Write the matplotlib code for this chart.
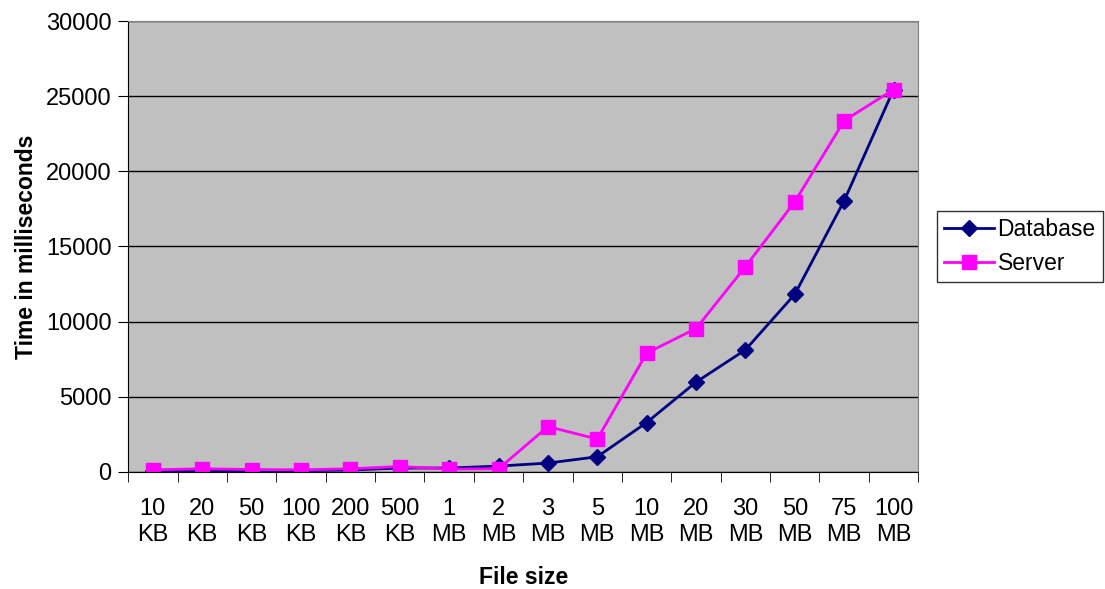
import matplotlib
matplotlib.use("Agg")
import matplotlib.pyplot as plt
from matplotlib.ticker import MultipleLocator, FixedLocator

plt.rcParams['font.family'] = ['Liberation Sans', 'DejaVu Sans']

categories = ["10\nKB", "20\nKB", "50\nKB", "100\nKB", "200\nKB", "500\nKB", "1\nMB", "2\nMB",
              "3\nMB", "5\nMB", "10\nMB", "20\nMB", "30\nMB", "50\nMB", "75\nMB", "100\nMB"]
database = [60, 80, 70, 80, 120, 250, 250, 380, 580, 1000, 3280, 5970, 8120, 11820, 18050, 25450]
server = [130, 200, 150, 130, 200, 350, 180, 200, 3010, 2180, 7900, 9540, 13660, 17980, 23380, 25450]

fig = plt.figure(figsize=(11.05, 5.89), dpi=100)
ax = fig.add_axes([0.116, 0.199, 0.715, 0.765])
ax.set_facecolor('#C0C0C0')

x = list(range(len(categories)))
ax.plot(x, database, color='#000080', marker='D', markersize=8.5, linewidth=2.0, label='Database')
ax.plot(x, server, color='#FF00FF', marker='s', markersize=10, linewidth=2.0, label='Server')

ax.set_xlim(-0.5, len(categories) - 0.5)
ax.set_ylim(0, 30000)
ax.yaxis.set_major_locator(MultipleLocator(5000))
ax.yaxis.grid(True, color='#000000', linewidth=1.0)
ax.set_axisbelow(True)

ax.set_xticks(x)
ax.set_xticklabels(categories, fontsize=17, linespacing=1.2)
ax.tick_params(axis='x', which='major', length=0, pad=19)
ax.xaxis.set_minor_locator(FixedLocator([i - 0.5 for i in range(len(categories) + 1)]))
ax.tick_params(axis='x', which='minor', length=7, direction='out', color='black')
ax.tick_params(axis='y', length=7, direction='out', labelsize=17, color='black', pad=5)

for side in ['top', 'right']:
    ax.spines[side].set_color('#808080')
for side in ['left', 'bottom']:
    ax.spines[side].set_color('black')

ax.set_xlabel('File size', fontsize=16.5, fontweight='bold', labelpad=15)
ax.set_ylabel('Time in milliseconds', fontsize=16.5, fontweight='bold', labelpad=6)

leg = ax.legend(loc='center left', bbox_to_anchor=(1.0235, 0.50), fontsize=16.5, frameon=True,
                fancybox=False, edgecolor='black', handlelength=2.2, borderpad=0.3,
                labelspacing=0.5, handletextpad=0.15, borderaxespad=0)
leg.get_frame().set_linewidth(1.0)

fig.savefig('out.png', dpi=100, facecolor='white')
